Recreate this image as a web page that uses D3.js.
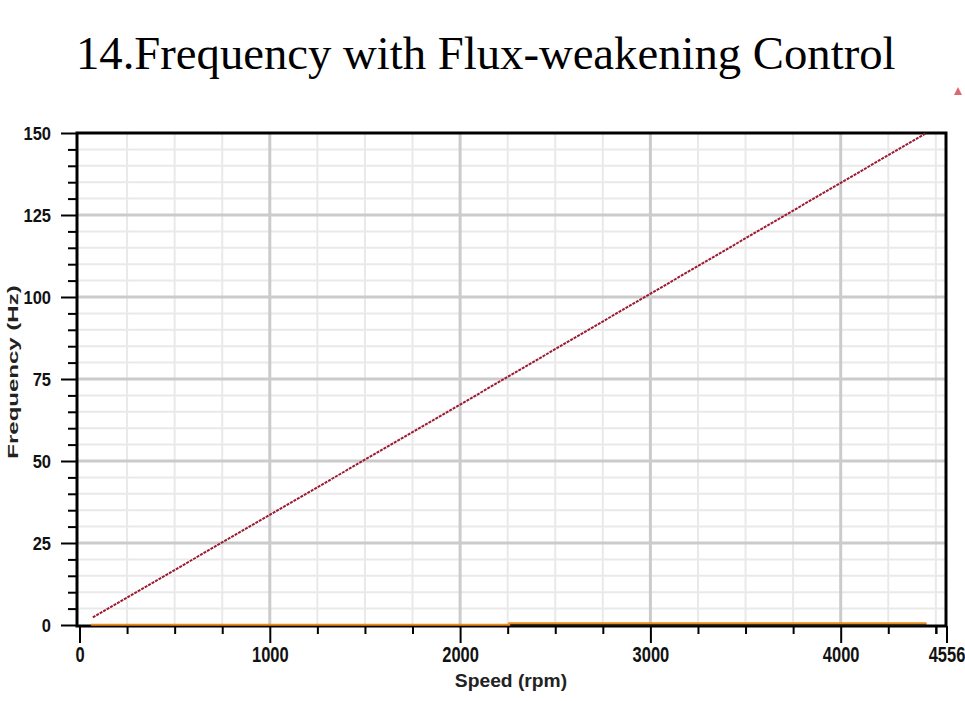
<!doctype html>
<html>
<head>
<meta charset="utf-8">
<script src="https://cdn.jsdelivr.net/npm/d3@7"></script>
<style>
    body { margin: 0; background: #fff; }
    svg { display: block; }
</style>
</head>
<body>
<svg id="chart"></svg>

<script>

    // data
    var freqSpeed = [70, 1000, 2000, 3000, 4000, 4450];
    var freqValue = [2.3, 33.6, 67.2, 101, 134.8, 150];

    var lowSpeed = [60, 2258, 2258, 4450];
    var lowValue = [0.1, 0.1, 0.5, 0.5];

    var stepSpeed = [2258, 4450];
    var stepValue = [0.15, 0.15];

    var xTicks = [0, 1000, 2000, 3000, 4000, 4556];
    var yTicks = [0, 25, 50, 75, 100, 125, 150];

    var width = 965, height = 701;

    var svg = d3.select("#chart")
        .attr("width", width)
        .attr("height", height);

    var x = d3.scaleLinear().domain([0, 4556]).range([79.5, 946.5]);
    var y = d3.scaleLinear().domain([0, 150]).range([625, 133]);

    var plotL = 77, plotR = 946, plotT = 133, plotB = 626;

    // title
    svg.append("text")
        .attr("x", 76)
        .attr("y", 69)
        .style("font-family", "'Liberation Serif', 'Times New Roman', serif")
        .style("font-size", "46.7px")
        .style("fill", "#000")
        .text("14.Frequency with Flux-weakening Control");

    // little marker top right
    svg.append("path")
        .attr("d", "M958,87 L962,95 L954,95 Z")
        .style("fill", "#d0454a")
        .style("opacity", 0.8);

    // grid
    var minorX = d3.range(250, 4556, 250).filter(function (d) { return d % 1000 != 0; });
    var majorX = [1000, 2000, 3000, 4000];
    var minorY = d3.range(5, 150, 5).filter(function (d) { return d % 25 != 0; });
    var majorY = [25, 50, 75, 100, 125];

    var grid = svg.append("g");

    grid.selectAll(".vminor").data(minorX).enter().append("line")
        .attr("x1", function (d) { return x(d); })
        .attr("x2", function (d) { return x(d); })
        .attr("y1", plotT).attr("y2", plotB)
        .style("stroke", "#e9e9e9").style("stroke-width", 2);

    grid.selectAll(".hminor").data(minorY).enter().append("line")
        .attr("x1", plotL).attr("x2", plotR)
        .attr("y1", function (d) { return y(d); })
        .attr("y2", function (d) { return y(d); })
        .style("stroke", "#e9e9e9").style("stroke-width", 2);

    grid.selectAll(".vmajor").data(majorX).enter().append("line")
        .attr("x1", function (d) { return x(d); })
        .attr("x2", function (d) { return x(d); })
        .attr("y1", plotT).attr("y2", plotB)
        .style("stroke", "#cbcbcb").style("stroke-width", 3);

    grid.selectAll(".hmajor").data(majorY).enter().append("line")
        .attr("x1", plotL).attr("x2", plotR)
        .attr("y1", function (d) { return y(d); })
        .attr("y2", function (d) { return y(d); })
        .style("stroke", "#cbcbcb").style("stroke-width", 3);

    // axes
    var tickFont = "'Liberation Sans', Arial, sans-serif";

    svg.append("g")
        .attr("transform", "translate(0," + plotB + ")")
        .call(d3.axisBottom(x).tickValues(minorX.concat([4500])).tickSize(8).tickFormat(""));

    var xAxis = svg.append("g")
        .attr("transform", "translate(0," + plotB + ")")
        .call(d3.axisBottom(x).tickValues(xTicks).tickSize(17).tickFormat(d3.format("d")));

    xAxis.selectAll("text")
        .attr("y", 0)
        .attr("dy", 0)
        .attr("transform", "translate(0,36) scale(1,1.37)")
        .style("font-family", tickFont)
        .style("font-size", "16.5px")
        .style("font-weight", "bold")
        .style("fill", "#111");

    svg.append("g")
        .attr("transform", "translate(" + plotL + ",0)")
        .call(d3.axisLeft(y).tickValues(minorY).tickSize(9).tickFormat(""));

    var yAxis = svg.append("g")
        .attr("transform", "translate(" + plotL + ",0)")
        .call(d3.axisLeft(y).tickValues(yTicks).tickSize(16));

    yAxis.selectAll("text")
        .attr("x", -26)
        .attr("dy", "0.36em")
        .attr("transform", "scale(1,1.13)")
        .style("font-family", tickFont)
        .style("font-size", "16.5px")
        .style("font-weight", "bold")
        .style("fill", "#111");

    svg.selectAll(".domain").remove();
    svg.selectAll(".tick line").style("stroke", "#000").style("stroke-width", 2);

    // frame
    svg.append("rect")
        .attr("x", plotL).attr("y", plotT)
        .attr("width", plotR - plotL).attr("height", plotB - plotT)
        .style("fill", "none")
        .style("stroke", "#000")
        .style("stroke-width", 3);

    // series
    var line = d3.line()
        .x(function (d) { return x(d[0]); })
        .y(function (d) { return y(d[1]); });

    var stepData = d3.zip(stepSpeed, stepValue);
    var lowData = d3.zip(lowSpeed, lowValue);
    var freqData = d3.zip(freqSpeed, freqValue);

    svg.append("path")
        .datum(stepData)
        .attr("d", line)
        .style("fill", "none")
        .style("stroke", "#111")
        .style("stroke-width", 3);

    svg.append("path")
        .datum(lowData)
        .attr("d", line)
        .style("fill", "none")
        .style("stroke", "#ec8a1a")
        .style("stroke-width", 2);

    svg.append("path")
        .datum(freqData)
        .attr("d", line)
        .style("fill", "none")
        .style("stroke", "#9c1a32")
        .style("stroke-width", 2)
        .style("stroke-dasharray", "3,1");

    // axis titles
    svg.append("text")
        .attr("transform", "translate(511,687) scale(1.07,1)")
        .attr("text-anchor", "middle")
        .style("font-family", tickFont)
        .style("font-size", "18px")
        .style("font-weight", "bold")
        .style("fill", "#222")
        .text("Speed (rpm)");

    svg.append("text")
        .attr("transform", "translate(18,372) rotate(-90) scale(1.6,1)")
        .attr("text-anchor", "middle")
        .style("font-family", tickFont)
        .style("font-size", "15px")
        .style("font-weight", "bold")
        .style("fill", "#222")
        .text("Frequency (Hz)");

</script>
</body>
</html>
